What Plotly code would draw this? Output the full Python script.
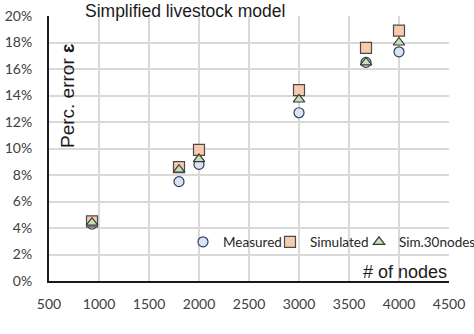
import plotly.graph_objects as go

nodes = [930, 1800, 2000, 3000, 3670, 4000]
measured = [0.043, 0.075, 0.088, 0.127, 0.165, 0.173]
simulated = [0.045, 0.086, 0.099, 0.144, 0.176, 0.189]
sim30 = [0.044, 0.084, 0.092, 0.137, 0.165, 0.180]
series_names = ["Measured", "Simulated", "Sim.30nodes"]
x_ticks = [500, 1000, 1500, 2000, 2500, 3000, 3500, 4000, 4500]
y_ticks = [0, 0.02, 0.04, 0.06, 0.08, 0.10, 0.12, 0.14, 0.16, 0.18, 0.20]

FONT = "Liberation Sans"
TFONT = "Lato"
fig = go.Figure()

styles = [
    dict(symbol="circle", color="#dae3f3", line=dict(color="#2f4058", width=1.2), size=10),
    dict(symbol="square", color="#f8cbad", line=dict(color="#4a4a4a", width=1.2), size=11),
    dict(symbol="triangle-up", color="#c5e0b4", line=dict(color="#3a3a3a", width=1.2), size=10),
]
legends = ["legend", "legend2", "legend3"]
for name, ys, st, lg in zip(series_names, [measured, simulated, sim30], styles, legends):
    fig.add_trace(go.Scatter(x=nodes, y=ys, mode="markers", name=name, marker=st,
                             legend=lg, cliponaxis=False))

W, H = 474, 334
L, R, T, B = 49, 25, 16, 53
pw, ph = W - L - R, H - T - B

def px(x):
    return (x - L) / pw

def py(y):
    return (H - B - y) / ph

leg_common = dict(orientation="h", bgcolor="rgba(0,0,0,0)", borderwidth=0,
                  font=dict(family=TFONT, size=13.5, color="#262626"),
                  xanchor="left", yanchor="middle", y=py(242))

fig.update_layout(
    width=W, height=H,
    margin=dict(l=L, r=R, t=T, b=B, autoexpand=False),
    paper_bgcolor="white", plot_bgcolor="white",
    showlegend=True,
    legend=dict(x=px(183), **leg_common),
    legend2=dict(x=px(270), **leg_common),
    legend3=dict(x=px(359), **leg_common),
    xaxis=dict(range=[500, 4500], tickvals=x_ticks, showgrid=True, gridcolor="#d9d9d9",
               gridwidth=1.5, showline=True, linecolor="#1a1a1a", linewidth=1.5,
               zeroline=False, ticks="", ticklabelstandoff=9,
               tickfont=dict(family=TFONT, size=14, color="#404040")),
    yaxis=dict(range=[0, 0.2], tickvals=y_ticks, tickformat=".0%", showgrid=True,
               gridcolor="#d9d9d9", gridwidth=1.5, showline=True, linecolor="#1a1a1a",
               linewidth=2, zeroline=False, ticks="", ticklabelstandoff=12,
               tickfont=dict(family=TFONT, size=14, color="#404040")),
    shapes=[
        dict(type="rect", xref="paper", yref="paper", x0=px(72), x1=px(350),
             y0=py(25), y1=py(0), fillcolor="white", line=dict(width=0), layer="between"),
        dict(type="rect", xref="paper", yref="paper", x0=px(183), x1=px(474),
             y0=py(256), y1=py(228), fillcolor="white", line=dict(width=0), layer="between"),
    ],
    annotations=[
        dict(text="Simplified livestock model", xref="paper", yref="paper",
             x=px(185), y=py(11), xanchor="center", yanchor="middle", showarrow=False,
             font=dict(family=FONT, size=17.5, color="#1a1a1a")),
        dict(text="Perc. error <b>ɛ</b>", xref="paper", yref="paper", textangle=-90,
             x=px(67), y=py(96), xanchor="center", yanchor="middle", showarrow=False,
             font=dict(family=FONT, size=19, color="#1a1a1a")),
        dict(text="# of nodes", xref="paper", yref="paper",
             x=px(405), y=py(272), xanchor="center", yanchor="middle", showarrow=False,
             font=dict(family=FONT, size=18, color="#1a1a1a")),
    ],
)

fig.write_html("out.html")
